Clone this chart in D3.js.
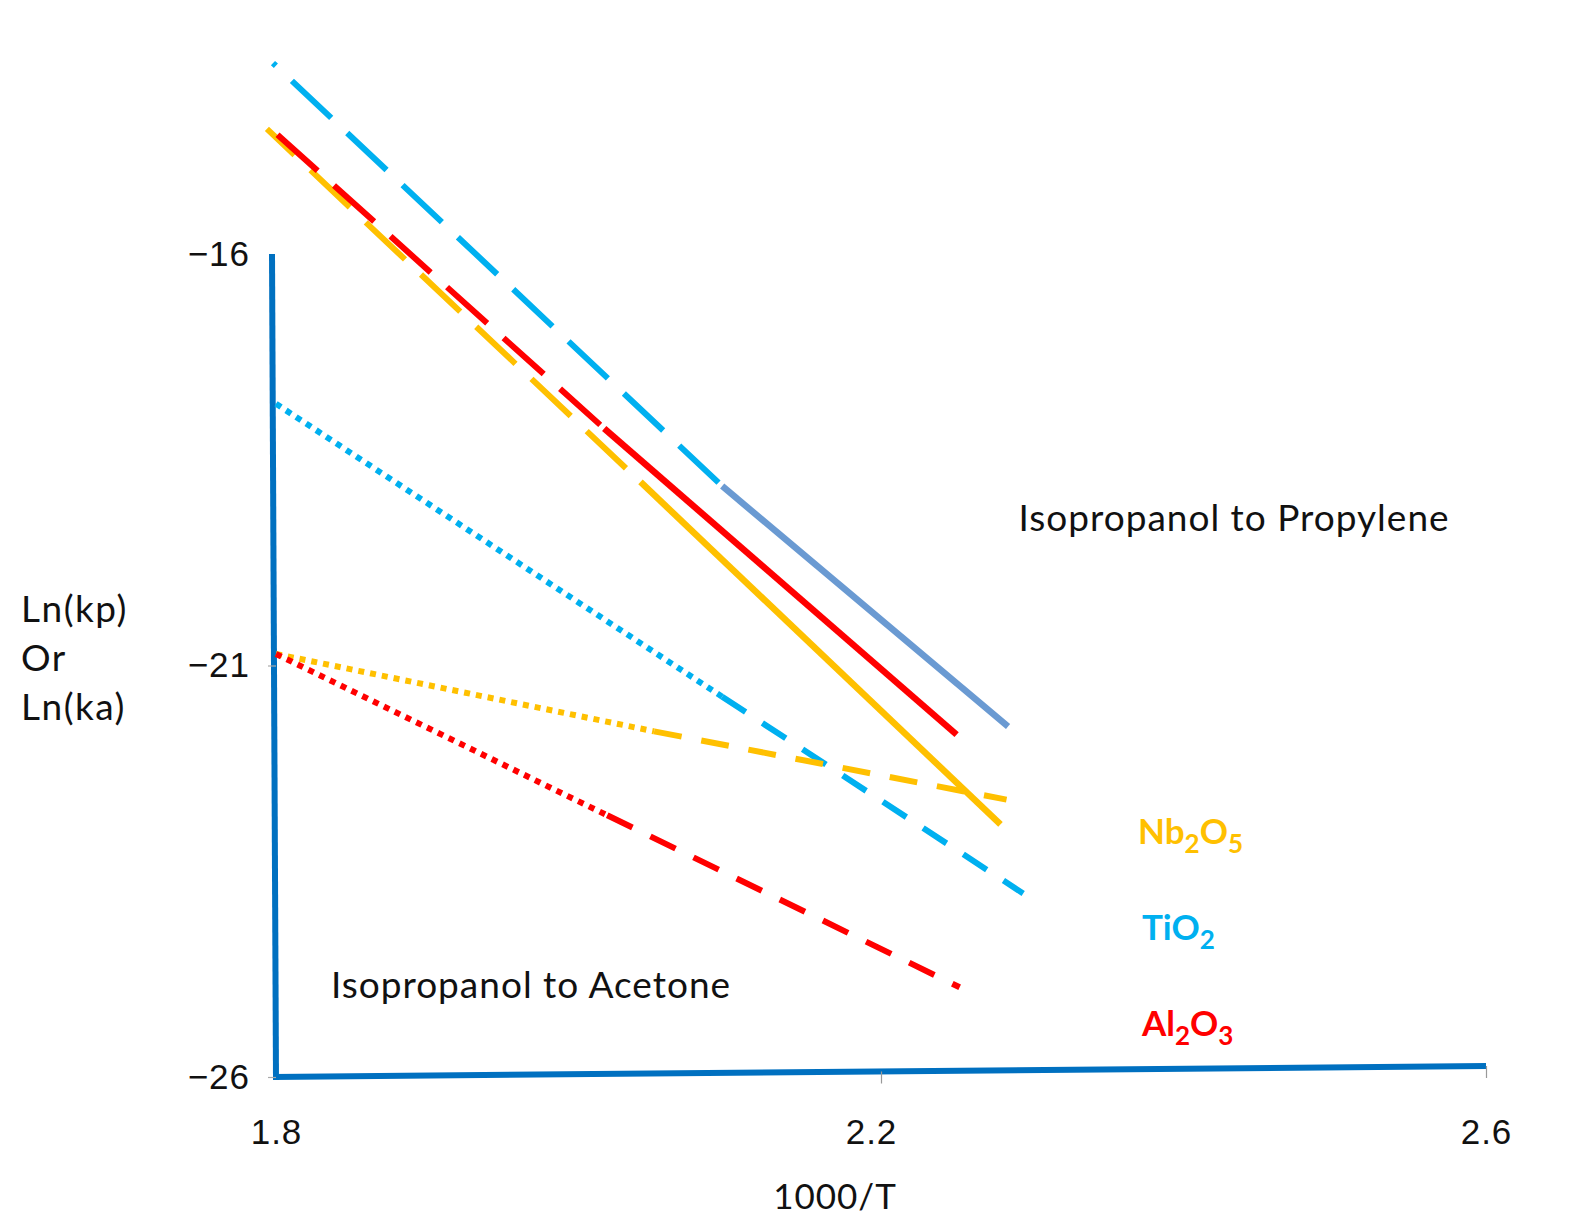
<!DOCTYPE html>
<html>
<head>
<meta charset="utf-8">
<script src="https://cdn.jsdelivr.net/npm/d3@7"></script>
<style>
  body { margin: 0; background: #fff; }
  svg { display: block; font-family: Lato, "Open Sans", sans-serif; }
</style>
</head>
<body>
<svg id="chart"></svg>
<script>
// values (1000/T and ln k)
const xTicks = [1.8, 2.2, 2.6];
const yTicks = [-26, -21, -16];

// Isopropanol to Propylene
const nbPropX = [1.794, 2.041, 2.279];
const nbPropY = [-14.48, -18.77, -22.93];
const tiPropX = [1.798, 2.095, 2.284];
const tiPropY = [-13.68, -18.82, -21.74];
const alPropX = [1.801, 2.017, 2.250];
const alPropY = [-14.55, -18.12, -21.84];

// Isopropanol to Acetone
const nbAcetX = [1.800, 2.050, 2.283];
const nbAcetY = [-20.86, -21.80, -22.63];
const tiAcetX = [1.800, 2.095, 2.294];
const tiAcetY = [-17.82, -21.38, -23.77];
const alAcetX = [1.800, 2.019, 2.252];
const alAcetY = [-20.86, -22.82, -24.91];

const legendNames = [["Nb", "2", "O", "5"], ["Ti", "", "O", "2"], ["Al", "2", "O", "3"]];

const W = 1596, H = 1226;
const orange = "#FFC000", blue = "#00B0F0", red = "#FF0000", steel = "#6A9AD2", axisBlue = "#0070C0";
const xTilt = -11, yTilt = -4;   // the hand-drawn axes lean slightly

const svg = d3.select("#chart").attr("width", W).attr("height", H);

const x = d3.scaleLinear().domain([1.8, 2.6]).range([276, 1486]);
const y = d3.scaleLinear().domain([-26, -16]).range([1077, 254]);

const tiltAt = v => xTilt * (x(v) - x(1.8)) / (x(2.6) - x(1.8));

// axes
const xAxis = svg.append("g")
    .attr("transform", `translate(0,${y(-26)})`)
    .call(d3.axisBottom(x).tickValues(xTicks).tickSize(10).tickPadding(32).tickFormat(d3.format(".1f")));
xAxis.select(".domain").attr("stroke", axisBlue).attr("stroke-width", 6)
    .attr("d", `M${x(1.8) - 3},0L${x(2.6)},${xTilt}`);
xAxis.selectAll(".tick line").attr("stroke", "#999").attr("stroke-width", 1.2)
    .attr("y1", d => tiltAt(d)).attr("y2", d => tiltAt(d) + 12);
xAxis.selectAll(".tick text").style("font-size", "35px").style("letter-spacing", "1px").attr("fill", "#111");
xAxis.selectAll(".tick").filter(d => d === 1.8).select("line").remove();
xAxis.selectAll(".tick").filter(d => d === 2.2).select("text").attr("x", -10);

const yAxis = svg.append("g")
    .attr("transform", `translate(${x(1.8)},0)`)
    .call(d3.axisLeft(y).tickValues(yTicks).tickSize(8).tickPadding(18).tickFormat(d3.format("d")));
yAxis.select(".domain").attr("stroke", axisBlue).attr("stroke-width", 6)
    .attr("d", `M${yTilt},${y(-16)}L0,${y(-26) + 3}`);
yAxis.selectAll(".tick line").attr("stroke", "#aaa").attr("stroke-width", 1.2);
yAxis.selectAll(".tick text").style("font-size", "35px").style("letter-spacing", "1px").attr("fill", "#111");
yAxis.selectAll(".tick").filter(d => d === -16).select("line").remove();

// line segments
const styles = {
    longDash: { dash: "54,22", w: 6 },
    dash: { dash: "28,20", w: 6 },
    dot: { dash: "6,6", w: 6 },
    solid: { dash: null, w: 6.5 }
};

const segments = [
    { xs: tiPropX, ys: tiPropY, i: 0, style: "longDash", color: blue, off: 50 },
    { xs: tiPropX, ys: tiPropY, i: 1, style: "solid", color: steel },
    { xs: nbPropX, ys: nbPropY, i: 0, style: "longDash", color: orange, off: 16 },
    { xs: nbPropX, ys: nbPropY, i: 1, style: "solid", color: orange },
    { xs: alPropX, ys: alPropY, i: 0, style: "longDash", color: red },
    { xs: alPropX, ys: alPropY, i: 1, style: "solid", color: red },
    { xs: tiAcetX, ys: tiAcetY, i: 0, style: "dot", color: blue },
    { xs: tiAcetX, ys: tiAcetY, i: 1, style: "dash", color: blue },
    { xs: nbAcetX, ys: nbAcetY, i: 0, style: "dot", color: orange },
    { xs: nbAcetX, ys: nbAcetY, i: 1, style: "dash", color: orange },
    { xs: alAcetX, ys: alAcetY, i: 0, style: "dot", color: red },
    { xs: alAcetX, ys: alAcetY, i: 1, style: "dash", color: red }
];

const line = d3.line().x(d => x(d[0])).y(d => y(d[1]));

svg.append("g").selectAll("path")
    .data(segments)
    .enter().append("path")
    .attr("d", s => line([[s.xs[s.i], s.ys[s.i]], [s.xs[s.i + 1], s.ys[s.i + 1]]]))
    .attr("fill", "none")
    .attr("stroke", s => s.color)
    .attr("stroke-width", s => styles[s.style].w)
    .attr("stroke-dasharray", s => styles[s.style].dash)
    .attr("stroke-dashoffset", s => s.off || 0)
    .attr("stroke-linecap", "butt");

// annotations
svg.append("text")
    .attr("x", 1234).attr("y", 531)
    .attr("text-anchor", "middle")
    .style("font-size", "37px").style("letter-spacing", "1px").attr("fill", "#111")
    .text("Isopropanol to Propylene");

svg.append("text")
    .attr("x", 531).attr("y", 998)
    .attr("text-anchor", "middle")
    .style("font-size", "37px").style("letter-spacing", "1px").attr("fill", "#111")
    .text("Isopropanol to Acetone");

svg.append("text")
    .attr("x", 835).attr("y", 1209)
    .attr("text-anchor", "middle")
    .style("font-size", "35px").style("letter-spacing", "1px").attr("fill", "#111")
    .text("1000/T");

svg.append("g").selectAll("text")
    .data(["Ln(kp)", "Or", "Ln(ka)"])
    .enter().append("text")
    .attr("x", 21)
    .attr("y", (d, i) => 622 + i * 49)
    .style("font-size", "37px").style("letter-spacing", "1.5px").attr("fill", "#111")
    .text(d => d);

// legend
const legendColors = [orange, blue, red];
const legend = svg.append("g").selectAll("text")
    .data(legendNames)
    .enter().append("text")
    .attr("x", (d, i) => i === 0 ? 1138 : 1142)
    .attr("y", (d, i) => 844 + i * 96)
    .style("font-size", "35px").style("font-weight", "bold")
    .attr("fill", (d, i) => legendColors[i]);

legend.each(function(parts) {
    const t = d3.select(this);
    t.append("tspan").text(parts[0]);
    if (parts[1]) t.append("tspan").attr("dy", 9).style("font-size", "26px").text(parts[1]);
    t.append("tspan").attr("dy", parts[1] ? -9 : 0).text(parts[2]);
    t.append("tspan").attr("dy", 9).style("font-size", "26px").text(parts[3]);
});
</script>
</body>
</html>
